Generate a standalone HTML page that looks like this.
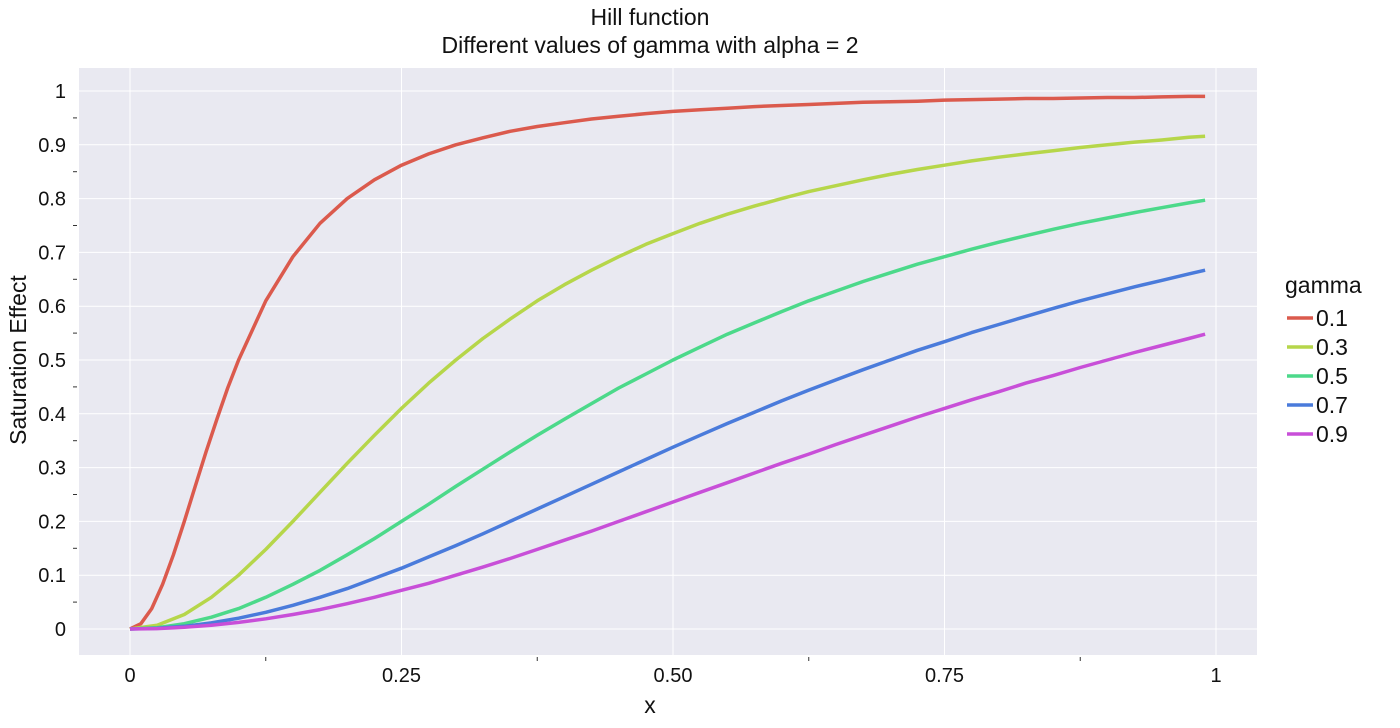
<!DOCTYPE html>
<html><head><meta charset="utf-8"><style>
body{margin:0;background:#fff;font-family:"Liberation Sans",Arial,sans-serif}
svg text{font-family:"Liberation Sans",Arial,sans-serif;fill:#111}
</style></head><body>
<svg id="chart" width="1400" height="723">
<text x="650" y="25" font-size="23" text-anchor="middle">Hill function</text>
<text x="650" y="53" font-size="23" text-anchor="middle">Different values of gamma with alpha = 2</text>
<rect x="79" y="68" width="1178" height="587" fill="#e9e9f1"/>
<g id="grid"></g><g id="axes"></g><g id="lines"></g>
<text x="650" y="713" font-size="23" text-anchor="middle">x</text>
<text transform="translate(26,360) rotate(-90)" font-size="23" text-anchor="middle">Saturation Effect</text>
<g id="legend"><text x="1285" y="293" font-size="23">gamma</text></g>
</svg>
<script>
const xs=[0,.025,.05,.075,.1,.125,.15,.175,.2,.225,.25,.275,.3,.325,.35,.375,.4,.425,.45,.475,.5,.525,.55,.575,.6,.625,.65,.675,.7,.725,.75,.775,.8,.825,.85,.875,.9,.925,.95,.975,.99];
const xsRed=[0,.01,.02,.03,.04,.05,.06,.07,.08,.09,.1,.125,.15,.175,.2,.225,.25,.275,.3,.325,.35,.375,.4,.425,.45,.475,.5,.525,.55,.575,.6,.625,.65,.675,.7,.725,.75,.775,.8,.825,.85,.875,.9,.925,.95,.975,.99];
const gammas=["0.1","0.3","0.5","0.7","0.9"];
const colors=["#db5a4d","#b6d64a","#4cd98a","#4a7bdb","#c84fd8"];
const g01=[0,.0099,.038,.083,.138,.2,.265,.329,.39,.448,.5,.61,.692,.754,.8,.835,.862,.883,.9,.913,.925,.934,.941,.948,.953,.958,.962,.965,.968,.971,.973,.975,.977,.979,.98,.981,.983,.984,.985,.986,.986,.987,.988,.988,.989,.99,.99];
const g03=[0,.007,.027,.059,.1,.148,.2,.254,.308,.36,.41,.457,.5,.54,.576,.61,.64,.667,.692,.715,.735,.754,.771,.786,.8,.813,.824,.835,.845,.854,.862,.87,.877,.883,.889,.895,.9,.905,.909,.914,.916];
const g05=[0,.0025,.0099,.022,.038,.059,.083,.109,.138,.168,.2,.232,.265,.297,.329,.36,.39,.419,.448,.474,.5,.524,.548,.569,.59,.61,.628,.646,.662,.678,.692,.706,.719,.731,.743,.754,.764,.774,.783,.792,.797];
const g07=[0,.0013,.0051,.0114,.02,.031,.044,.059,.075,.094,.113,.134,.155,.177,.2,.223,.246,.269,.292,.315,.338,.36,.382,.403,.424,.444,.463,.482,.5,.518,.534,.551,.566,.581,.596,.61,.623,.636,.648,.66,.667];
const g09=[0,.0008,.0031,.0069,.0122,.019,.027,.036,.047,.059,.072,.085,.1,.115,.131,.148,.165,.182,.2,.218,.236,.254,.272,.29,.308,.325,.343,.36,.377,.394,.41,.426,.441,.457,.471,.486,.5,.514,.527,.54,.548];
const series=[g01,g03,g05,g07,g09];
const seriesX=[xsRed,xs,xs,xs,xs];
const xTicks=[0,.25,.5,.75,1];
const xTickLabels=["0","0.25","0.50","0.75","1"];
const yTicks=[0,.1,.2,.3,.4,.5,.6,.7,.8,.9,1];
const yTickLabels=["0","0.1","0.2","0.3","0.4","0.5","0.6","0.7","0.8","0.9","1"];
const X=v=>130+v*1086, Y=v=>629-v*538;
const NS="http://www.w3.org/2000/svg";
function mk(t,a,p){const e=document.createElementNS(NS,t);for(const k in a)e.setAttribute(k,a[k]);p.appendChild(e);return e;}
const grid=document.getElementById('grid'),axes=document.getElementById('axes'),lines=document.getElementById('lines'),legend=document.getElementById('legend');
yTicks.forEach((v,i)=>{
 let l=mk('line',{x1:79,x2:1257,y1:Y(v),y2:Y(v),stroke:'#fff','stroke-width':1},grid);
 
 
 let t=mk('text',{x:66,y:Y(v)+7,'font-size':20,'text-anchor':'end'},axes);t.textContent=yTickLabels[i];
 
 
 if(i<yTicks.length-1){let m=mk('line',{x1:73,x2:77,y1:Y(v+.05),y2:Y(v+.05),stroke:'#333'},axes);
 
 }
});
xTicks.forEach((v,i)=>{
 let l=mk('line',{x1:X(v),x2:X(v),y1:68,y2:655,stroke:'#fff','stroke-width':1},grid);
 
 
 let t=mk('text',{x:X(v),y:682,'font-size':20,'text-anchor':'middle'},axes);t.textContent=xTickLabels[i];
 
 
 if(i<xTicks.length-1){let m=mk('line',{x1:X(v+.125),x2:X(v+.125),y1:657,y2:661,stroke:'#333'},axes);
 
 }
});
series.forEach((s,k)=>{
 const xa=seriesX[k];
 const d=s.map((v,i)=>(i?'L':'M')+X(xa[i]).toFixed(1)+','+Y(v).toFixed(1)).join('');
 let p=mk('path',{d:d,fill:'none',stroke:colors[k],'stroke-width':3.5,'stroke-linejoin':'round'},lines);
 
 
 const ly=318+k*29;
 let g=mk('g',{},legend);
 
 
 mk('line',{x1:1287,x2:1313,y1:ly,y2:ly,stroke:colors[k],'stroke-width':3.5},g);
 let t=mk('text',{x:1316,y:ly+8,'font-size':23},g);t.textContent=gammas[k];
});
</script>
</body></html>
